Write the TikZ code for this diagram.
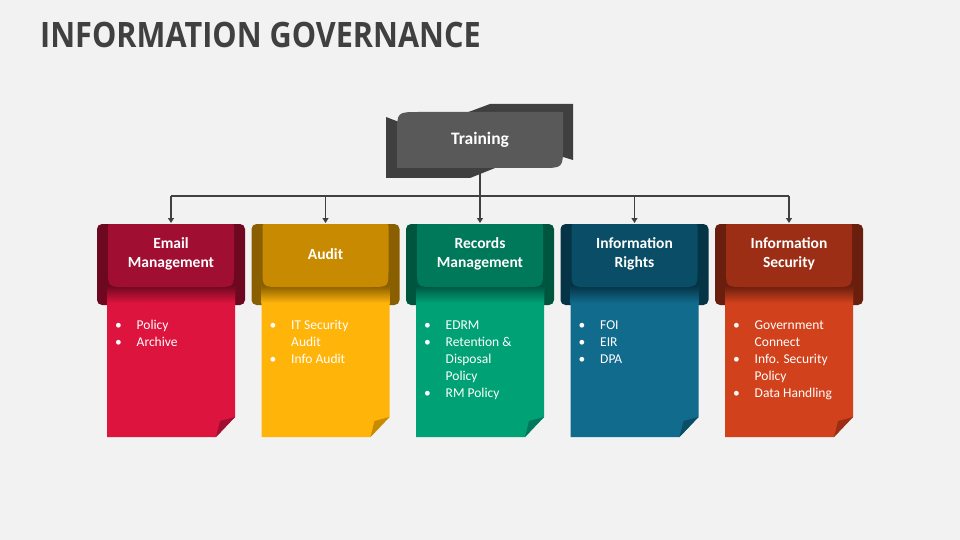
\documentclass[tikz,border=0pt]{standalone}
\usepackage{fontspec}
\setmainfont{Carlito}
\newfontfamily\titlefont[FakeStretch=0.875]{Open Sans}
\usetikzlibrary{positioning}
\usetikzlibrary{arrows.meta}
\definecolor{bg}{HTML}{F2F2F2}
\definecolor{ink}{HTML}{404040}
\definecolor{trainfront}{HTML}{595959}
\definecolor{trainback}{HTML}{3F3F3F}
\definecolor{emailback}{HTML}{6E0820}
\definecolor{emailhead}{HTML}{A00E32}
\definecolor{emailpaper}{HTML}{DC143E}
\definecolor{auditback}{HTML}{8A5F00}
\definecolor{audithead}{HTML}{C88A00}
\definecolor{auditpaper}{HTML}{FFB40A}
\definecolor{recback}{HTML}{00553F}
\definecolor{rechead}{HTML}{00785A}
\definecolor{recpaper}{HTML}{00A275}
\definecolor{rightsback}{HTML}{063447}
\definecolor{rightshead}{HTML}{0A4D66}
\definecolor{rightspaper}{HTML}{116B8D}
\definecolor{secback}{HTML}{6A1E0E}
\definecolor{sechead}{HTML}{9C2E16}
\definecolor{secpaper}{HTML}{D1421C}
\tikzset{headtext/.style = {text=white, align=center, inner sep=0pt,
                            font=\bfseries\fontsize{15.5}{19.5}\selectfont},
         itemtext/.style = {text=white, anchor=north west, inner sep=0pt,
                            font=\fontsize{13.5}{17}\selectfont},
         link/.style = {draw=ink, line width=1.6pt},
         linkarrow/.style = {link, -{Triangle[width=6pt,length=5pt]}}}
\newcommand{\bulletlist}[1]{\begin{tabular}{@{}p{21.5pt}@{}l@{}}#1\end{tabular}}
\newcommand{\govcolumn}[7]{%
  \begin{scope}[shift={(#1,0)}]
    \fill[#3, rounded corners=5pt] (-74,224) rectangle (74,305);
    \fill[#5] (-64,286) -- (-64,437) -- (45,437) -- (64,417) -- (64,286) -- cycle;
    \fill[#4] (45,437) -- (49,421) -- (64,417) -- cycle;
    \shade[top color=#3, bottom color=#5] (-64,286) rectangle (64,303);
    \fill[#4] (-63,227) .. controls (-63,224) .. (-60,224) -- (60,224)
      .. controls (63,224) .. (63,227) -- (63,269) .. controls (63,287) .. (45,287)
      -- (-45,287) .. controls (-63,287) .. (-63,269) -- cycle;
    \coordinate (#2-top) at (0,223);
    \node[headtext] (#2) at (0,254) {#6};
    \node[itemtext] (#2-items) at (-56,317) {\bulletlist{#7}};
  \end{scope}}

\begin{document}
\begin{tikzpicture}[x=1pt, y=-1pt]
  \fill[bg] (0,0) rectangle (960,540);
  \useasboundingbox (0,0) rectangle (960,540);

  \node[anchor=west, inner sep=0pt, text=ink, font=\titlefont\bfseries\fontsize{35}{40}\selectfont]
    (title) at (40,35) {INFORMATION GOVERNANCE};

  \fill[trainback] (386,117) -- (420,130) -- (490,104) -- (573,104) -- (573,160)
    -- (540,150) -- (470,178) -- (386,178) -- cycle;
  \fill[trainfront] (397,134) .. controls (397,112) .. (419,112) -- (563,112) -- (563,146)
    .. controls (563,168) .. (541,168) -- (397,168) -- cycle;
  \node[headtext, font=\bfseries\fontsize{17.5}{21}\selectfont, minimum width=166pt,
    minimum height=56pt] (training) at (480,140) {Training};

  \govcolumn{171}{email}{emailback}{emailhead}{emailpaper}{Email\\Management}
    {\textbullet & Policy\\ \textbullet & Archive}
  \govcolumn{325.5}{audit}{auditback}{audithead}{auditpaper}{Audit}
    {\textbullet & IT Security\\ & Audit\\ \textbullet & Info Audit}
  \govcolumn{480}{records}{recback}{rechead}{recpaper}{Records\\Management}
    {\textbullet & EDRM\\ \textbullet & Retention \&\\ & Disposal\\ & Policy\\ \textbullet & RM Policy}
  \govcolumn{634.5}{rights}{rightsback}{rightshead}{rightspaper}{Information\\Rights}
    {\textbullet & FOI\\ \textbullet & EIR\\ \textbullet & DPA}
  \govcolumn{789}{security}{secback}{sechead}{secpaper}{Information\\Security}
    {\textbullet & Government\\ & Connect\\ \textbullet & Info. Security\\ & Policy\\ \textbullet & Data Handling}

  \coordinate (bus) at (480,196);
  \draw[link] (training.south) -- (bus);
  \draw[link] (email-top |- bus) -- (security-top |- bus);
  \draw[linkarrow] (email-top |- bus) -- (email-top);
  \draw[linkarrow] (audit-top |- bus) -- (audit-top);
  \draw[linkarrow] (records-top |- bus) -- (records-top);
  \draw[linkarrow] (rights-top |- bus) -- (rights-top);
  \draw[linkarrow] (security-top |- bus) -- (security-top);
\end{tikzpicture}
\end{document}
